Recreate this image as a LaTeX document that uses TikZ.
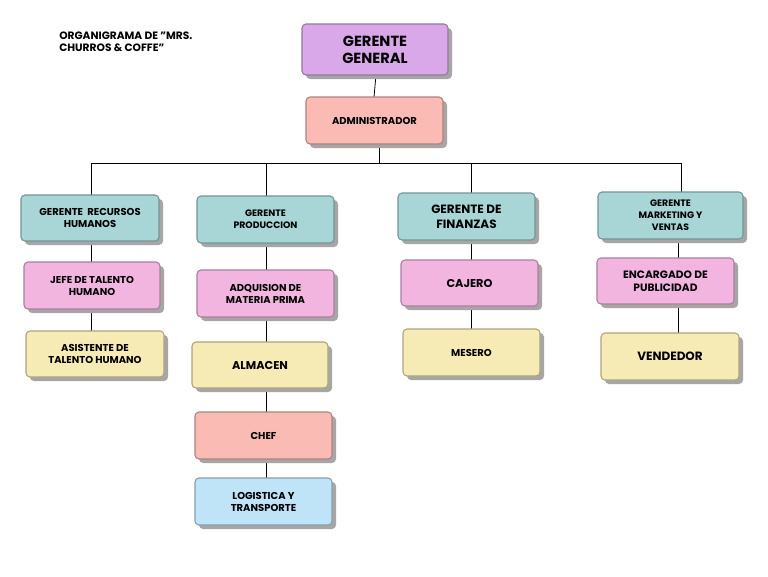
\documentclass[tikz,border=0pt]{standalone}
\usepackage{fontspec}
\setmainfont{Poppins}
\begin{document}
\begin{tikzpicture}[x=0.75pt,y=-0.75pt,
 bx/.style={draw=#1!70!black,fill=#1,rounded corners=3pt,line width=0.8pt,align=center,font=\bfseries\fontsize{7.5}{9}\selectfont},
 ln/.style={line width=0.6pt}]
\definecolor{pur}{HTML}{D9A8E8}\definecolor{sal}{HTML}{F9BBB4}\definecolor{tea}{HTML}{A8D5D5}
\definecolor{pnk}{HTML}{F2B5E0}\definecolor{yel}{HTML}{F7EBB5}\definecolor{blu}{HTML}{BFE3F7}
\useasboundingbox[fill=white] (0,0) rectangle (768,576);
\newcommand{\bxx}[7][]{%
 \fill[gray!70,rounded corners=3pt] (#3+4,#4+4) rectangle (#5+4,#6+4);
 \node[bx=#2,minimum width={(#5-#3)*0.75pt},minimum height={(#6-#4)*0.75pt},#1] (n#3) at ({(#3+#5)/2},{(#4+#6)/2}) {#7};}
% lines
\coordinate (l1) at (91,163); \coordinate (l2) at (681,163);
\draw[ln] (l1)--(l2);
\draw[ln] (379,144)--(379,163);
\draw[ln] (376,75)--(374,97);
\draw[ln] (91,163)--(91,377);
\draw[ln] (266,163)--(266,478);
\draw[ln] (471,163)--(471,329);
\draw[ln] (681,163)--(681,192);
\draw[ln] (678,239)--(678,333);
\bxx[font=\bfseries\fontsize{11}{13}\selectfont]{pur}{302}{24}{448}{75}{GERENTE\\GENERAL}
\bxx{sal}{306}{97}{443}{144}{ADMINISTRADOR}
\bxx{tea}{21}{195}{159}{241}{GERENTE\ \ RECURSOS\\HUMANOS}
\bxx{pnk}{24}{262}{160}{309}{JEFE DE TALENTO\\HUMANO}
\bxx{yel}{26}{331}{164}{377}{ASISTENTE DE\\TALENTO HUMANO}
\bxx[font=\bfseries\fontsize{7}{9}\selectfont]{tea}{197}{196}{334}{243}{GERENTE\\PRODUCCION}
\bxx{pnk}{197}{270}{334}{317}{ADQUISION DE\\MATERIA PRIMA}
\bxx[font=\bfseries\fontsize{8.5}{10}\selectfont]{yel}{192}{342}{328}{388}{ALMACEN}
\bxx{sal}{195}{412}{332}{459}{CHEF}
\bxx{blu}{195}{478}{332}{525}{LOGISTICA Y\\TRANSPORTE}
\bxx[font=\bfseries\fontsize{9}{11}\selectfont]{tea}{398}{193}{535}{240}{GERENTE DE\\FINANZAS}
\bxx[font=\bfseries\fontsize{8.5}{10}\selectfont]{pnk}{401}{260}{538}{306}{CAJERO}
\bxx{yel}{403}{329}{540}{376}{MESERO}
\bxx[font=\bfseries\fontsize{7}{9}\selectfont]{tea}{598}{192}{743}{239}{GERENTE\\MARKETING Y\\VENTAS}
\bxx[font=\bfseries\fontsize{8}{10}\selectfont]{pnk}{597}{258}{734}{304}{ENCARGADO DE\\PUBLICIDAD}
\bxx[font=\bfseries\fontsize{9}{11}\selectfont]{yel}{601}{333}{739}{380}{VENDEDOR}
\node[anchor=north west,align=left,font=\bfseries\fontsize{8}{9}\selectfont,inner sep=0] (t) at (59,32) {ORGANIGRAMA DE "MRS.\\CHURROS \& COFFE"};
\end{tikzpicture}
\end{document}
